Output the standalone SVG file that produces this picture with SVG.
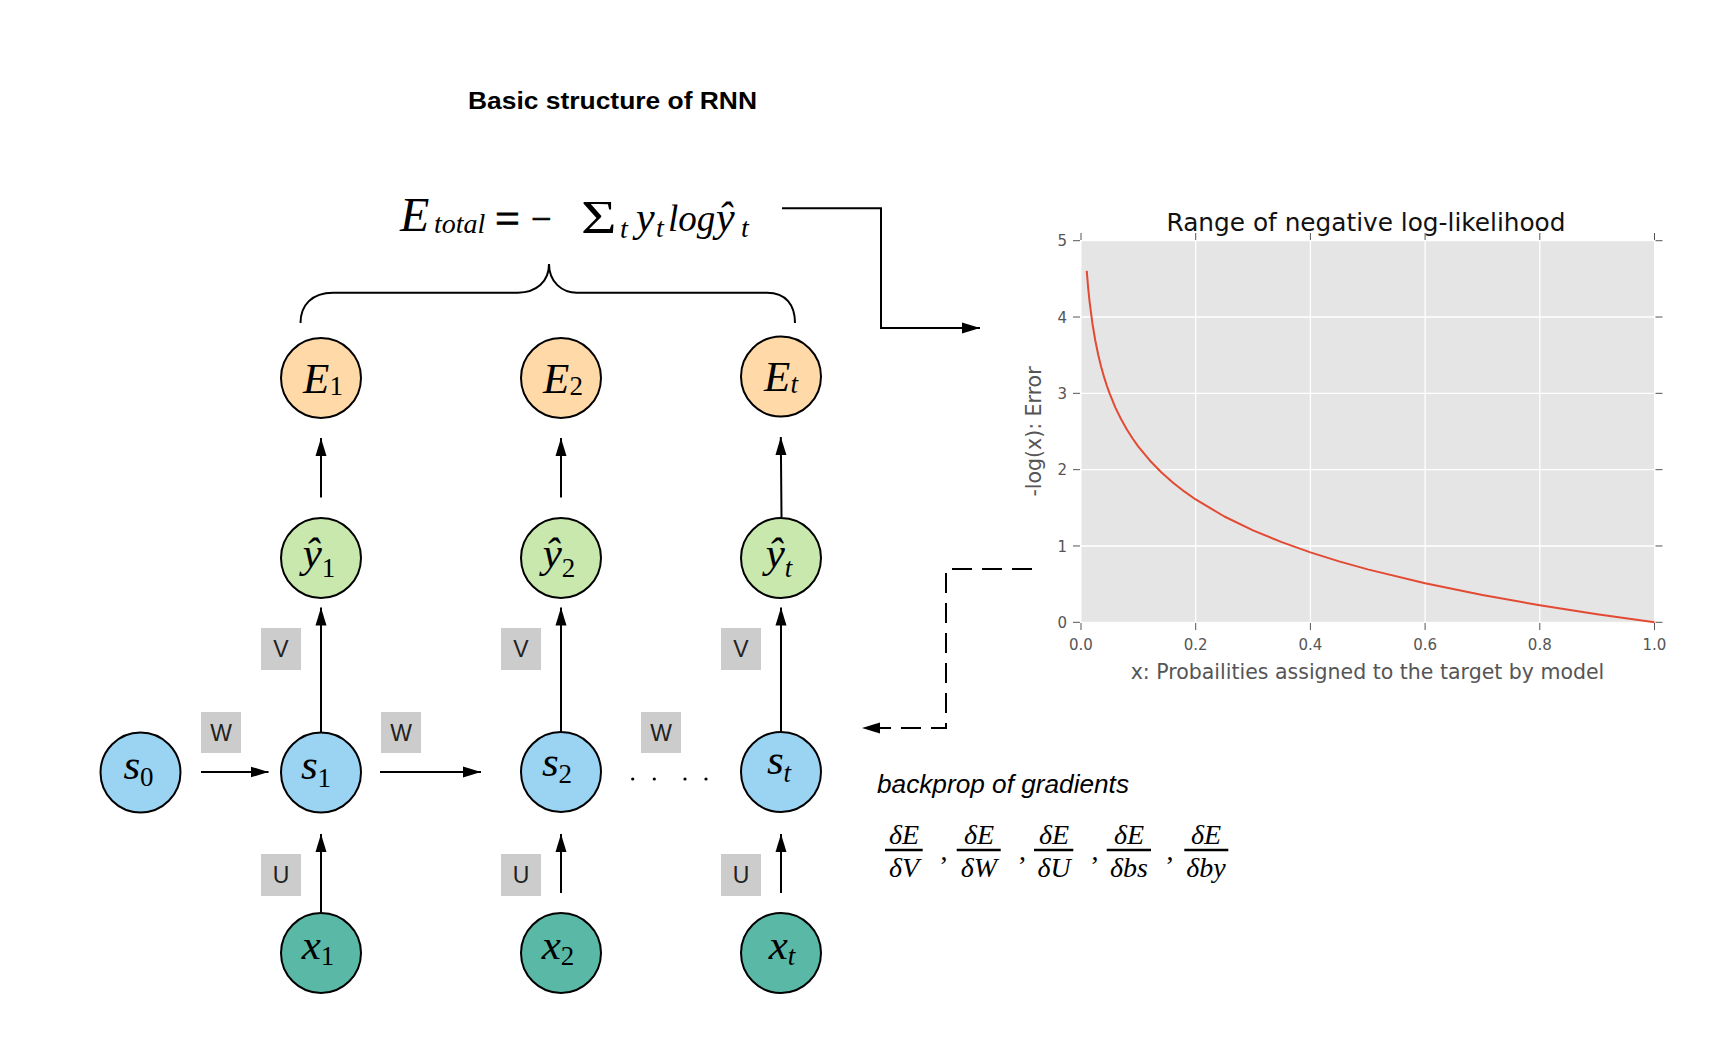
<svg xmlns="http://www.w3.org/2000/svg" width="1710" height="1061" viewBox="0 0 1710 1061">
<defs>
<style>
.node{stroke:#000;stroke-width:2}
.e{fill:#FFD9A8}.yh{fill:#C8E8AE}.s{fill:#9BD3F3}.x{fill:#5AB8A7}
.lbl{font-family:"Liberation Serif","Times New Roman",serif;font-style:italic;font-size:43px;fill:#000}
.sub{font-size:27px}
.rm{font-style:normal}
.conn{fill:none;stroke:#000;stroke-width:2}
.dash{stroke-dasharray:20 10}
.box{fill:#CCCCCC}
.boxt{font-family:"Liberation Sans",Arial,sans-serif;font-size:23px;fill:#222;text-anchor:middle}
.math{font-family:"Liberation Serif","Times New Roman",serif;font-style:italic;fill:#000}
.mrm{font-family:"Liberation Serif","Times New Roman",serif;fill:#000}
.tick{stroke:#555;stroke-width:1}
.grid{stroke:#fff;stroke-width:1.3}
.tl{font-family:"DejaVu Sans",sans-serif;font-size:15px;fill:#555}
.al{font-family:"DejaVu Sans",sans-serif;font-size:20.5px;fill:#555}
</style>
<marker id="ah" markerUnits="userSpaceOnUse" markerWidth="18" markerHeight="12" refX="18" refY="6" orient="auto">
<path d="M0,0.5 L18,6 L0,11.5 z" fill="#000"/>
</marker>
</defs>
<rect width="1710" height="1061" fill="#fff"/>

<text id="title" x="468" y="109" font-family="Liberation Sans, Arial, sans-serif" font-weight="bold" font-size="23.5" textLength="289" lengthAdjust="spacingAndGlyphs" fill="#000">Basic structure of RNN</text>

<g id="formula">
<text class="math"><tspan x="400" y="231" font-size="48">E</tspan><tspan x="434" y="233" font-size="28">total</tspan><tspan x="495" y="233" font-size="44" font-style="normal" stroke="#000" stroke-width="0.8">=</tspan><tspan x="531" y="231" font-size="36" font-style="normal" stroke="#000" stroke-width="0.8">−</tspan></text>
<text class="mrm" transform="translate(581,233) scale(1.3,1)" font-size="47">Σ</text>
<text class="math"><tspan x="620" y="238" font-size="28">t</tspan><tspan x="636" y="231" font-size="42">y</tspan><tspan x="656" y="237" font-size="28">t</tspan><tspan x="668" y="231" font-size="37">log</tspan><tspan x="716" y="231" font-size="42">ŷ</tspan><tspan x="741" y="237" font-size="28">t</tspan></text>
</g>

<g id="brace">
<path class="conn" d="M300.5,323 C300.5,305 312,292.7 333,292.7 H518 C536,292.7 549,282 549,264 C549,282 562,292.7 577,292.7 H767 C786,292.7 795,305 795,323"/>
</g>

<g id="connectors">
<path class="conn" d="M321,497.5 V438" marker-end="url(#ah)"/>
<path class="conn" d="M561,497.5 V438" marker-end="url(#ah)"/>
<path class="conn" d="M781.5,517 L780.8,437" marker-end="url(#ah)"/>
<path class="conn" d="M321,732.5 V607.5" marker-end="url(#ah)"/>
<path class="conn" d="M561,732 V607.5" marker-end="url(#ah)"/>
<path class="conn" d="M781,732 V607.5" marker-end="url(#ah)"/>
<path class="conn" d="M321,913 V834" marker-end="url(#ah)"/>
<path class="conn" d="M561,893 V834" marker-end="url(#ah)"/>
<path class="conn" d="M781,893 V834" marker-end="url(#ah)"/>
<path class="conn" d="M201,772 H268.5" marker-end="url(#ah)"/>
<path class="conn" d="M380,772 H481" marker-end="url(#ah)"/>
<path class="conn" d="M782,208.3 H881 V328 H980" marker-end="url(#ah)"/>
<path class="conn dash" d="M1032,569 H946 V728 H862" marker-end="url(#ah)"/>
</g>

<g id="edge-labels">
<rect class="box" x="261" y="628" width="40" height="42"/><text class="boxt" x="281" y="657.2">V</text>
<rect class="box" x="501" y="628" width="40" height="42"/><text class="boxt" x="521" y="657.2">V</text>
<rect class="box" x="721" y="628" width="40" height="42"/><text class="boxt" x="741" y="657.2">V</text>
<rect class="box" x="201" y="712" width="40" height="41"/><text class="boxt" x="221" y="740.5">W</text>
<rect class="box" x="381" y="712" width="40" height="41"/><text class="boxt" x="401" y="740.5">W</text>
<rect class="box" x="641" y="712" width="40" height="41"/><text class="boxt" x="661" y="740.5">W</text>
<rect class="box" x="261" y="854" width="40" height="42"/><text class="boxt" x="281" y="883.2">U</text>
<rect class="box" x="501" y="854" width="40" height="42"/><text class="boxt" x="521" y="883.2">U</text>
<rect class="box" x="721" y="854" width="40" height="42"/><text class="boxt" x="741" y="883.2">U</text>
</g>

<g id="ellipsis" fill="#000">
<circle cx="632.7" cy="779" r="1.6"/><circle cx="654.3" cy="779" r="1.6"/><circle cx="685" cy="779" r="1.6"/><circle cx="706" cy="779" r="1.6"/>
</g>

<g id="node-E1"><circle class="node e" cx="321" cy="378" r="40"/><text class="lbl" x="323" y="392.5" text-anchor="middle">E<tspan class="sub rm" dy="2">1</tspan></text></g>
<g id="node-E2"><circle class="node e" cx="561" cy="378" r="40"/><text class="lbl" x="563" y="392.5" text-anchor="middle">E<tspan class="sub rm" dy="2">2</tspan></text></g>
<g id="node-Et"><circle class="node e" cx="781" cy="376.5" r="40"/><text class="lbl" x="781" y="391" text-anchor="middle">E<tspan class="sub" dy="2">t</tspan></text></g>

<g id="node-yhat1"><circle class="node yh" cx="321" cy="558" r="40"/><text class="lbl" x="319" y="566.5" text-anchor="middle">ŷ<tspan class="sub rm" dy="10">1</tspan></text></g>
<g id="node-yhat2"><circle class="node yh" cx="561" cy="558" r="40"/><text class="lbl" x="559" y="566.5" text-anchor="middle">ŷ<tspan class="sub rm" dy="10">2</tspan></text></g>
<g id="node-yhatt"><circle class="node yh" cx="781" cy="558" r="40"/><text class="lbl" x="779" y="566.5" text-anchor="middle">ŷ<tspan class="sub" dy="10">t</tspan></text></g>

<g id="node-s0"><circle class="node s" cx="140.5" cy="772.5" r="40"/><text class="lbl" x="138.5" y="779" text-anchor="middle">s<tspan class="sub rm" dy="7">0</tspan></text></g>
<g id="node-s1"><circle class="node s" cx="321" cy="772.5" r="40"/><text class="lbl" x="316" y="779" text-anchor="middle">s<tspan class="sub rm" dy="8">1</tspan></text></g>
<g id="node-s2"><circle class="node s" cx="561" cy="772" r="40"/><text class="lbl" x="557" y="776" text-anchor="middle">s<tspan class="sub rm" dy="7">2</tspan></text></g>
<g id="node-st"><circle class="node s" cx="781" cy="772" r="40"/><text class="lbl" x="779" y="774" text-anchor="middle">s<tspan class="sub" dy="7.5">t</tspan></text></g>

<g id="node-x1"><circle class="node x" cx="321" cy="953" r="40"/><text class="lbl" x="318" y="958.6" text-anchor="middle">x<tspan class="sub rm" dy="6.5">1</tspan></text></g>
<g id="node-x2"><circle class="node x" cx="561" cy="953" r="40"/><text class="lbl" x="558" y="958.6" text-anchor="middle">x<tspan class="sub rm" dy="6.5">2</tspan></text></g>
<g id="node-xt"><circle class="node x" cx="781" cy="953" r="40"/><text class="lbl" x="782" y="958.6" text-anchor="middle">x<tspan class="sub" dy="6.5">t</tspan></text></g>

<g id="gradients">
<text x="877" y="793" font-family="Liberation Sans, Arial, sans-serif" font-style="italic" font-size="26.5" textLength="252" lengthAdjust="spacingAndGlyphs" fill="#000">backprop of gradients</text>
<g stroke="#000" stroke-width="2.5">
<line x1="885" y1="850" x2="922.7" y2="850"/>
<line x1="956.7" y1="850" x2="1000.7" y2="850"/>
<line x1="1034" y1="850" x2="1073.3" y2="850"/>
<line x1="1106.7" y1="850" x2="1151" y2="850"/>
<line x1="1184.3" y1="850" x2="1228.3" y2="850"/>
</g>
<g class="math" font-size="28" text-anchor="middle">
<text x="904" y="843.5">δE</text><text x="904" y="876.5">δV</text>
<text x="979" y="843.5">δE</text><text x="979" y="876.5">δW</text>
<text x="1054" y="843.5">δE</text><text x="1054" y="876.5">δU</text>
<text x="1129" y="843.5">δE</text><text x="1129" y="876.5">δbs</text>
<text x="1206" y="843.5">δE</text><text x="1206" y="876.5">δby</text>
</g>
<g class="mrm" font-size="28" text-anchor="middle">
<text x="944" y="860">,</text><text x="1022.5" y="860">,</text><text x="1095" y="860">,</text><text x="1170" y="860">,</text>
</g>
</g>

<g id="chart">
<rect x="1081" y="240.7" width="573.5" height="381.6" fill="#E5E5E5" stroke="#fff" stroke-width="1"/>
<g class="grid">
<line x1="1081" y1="545.98" x2="1654.5" y2="545.98"/>
<line x1="1081" y1="469.66" x2="1654.5" y2="469.66"/>
<line x1="1081" y1="393.34" x2="1654.5" y2="393.34"/>
<line x1="1081" y1="317.02" x2="1654.5" y2="317.02"/>
<line x1="1195.7" y1="240.7" x2="1195.7" y2="622.3"/>
<line x1="1310.4" y1="240.7" x2="1310.4" y2="622.3"/>
<line x1="1425.1" y1="240.7" x2="1425.1" y2="622.3"/>
<line x1="1539.8" y1="240.7" x2="1539.8" y2="622.3"/>
</g>
<g class="tick">
<line x1="1073" y1="622.3" x2="1080" y2="622.3"/><line x1="1073" y1="545.98" x2="1080" y2="545.98"/><line x1="1073" y1="469.66" x2="1080" y2="469.66"/><line x1="1073" y1="393.34" x2="1080" y2="393.34"/><line x1="1073" y1="317.02" x2="1080" y2="317.02"/><line x1="1073" y1="240.7" x2="1080" y2="240.7"/>
<line x1="1655.5" y1="622.3" x2="1662.5" y2="622.3"/><line x1="1655.5" y1="545.98" x2="1662.5" y2="545.98"/><line x1="1655.5" y1="469.66" x2="1662.5" y2="469.66"/><line x1="1655.5" y1="393.34" x2="1662.5" y2="393.34"/><line x1="1655.5" y1="317.02" x2="1662.5" y2="317.02"/><line x1="1655.5" y1="240.7" x2="1662.5" y2="240.7"/>
<line x1="1081" y1="233" x2="1081" y2="240"/><line x1="1195.7" y1="233" x2="1195.7" y2="240"/><line x1="1310.4" y1="233" x2="1310.4" y2="240"/><line x1="1425.1" y1="233" x2="1425.1" y2="240"/><line x1="1539.8" y1="233" x2="1539.8" y2="240"/><line x1="1654.5" y1="233" x2="1654.5" y2="240"/>
<line x1="1081" y1="623" x2="1081" y2="630"/><line x1="1195.7" y1="623" x2="1195.7" y2="630"/><line x1="1310.4" y1="623" x2="1310.4" y2="630"/><line x1="1425.1" y1="623" x2="1425.1" y2="630"/><line x1="1539.8" y1="623" x2="1539.8" y2="630"/><line x1="1654.5" y1="623" x2="1654.5" y2="630"/>
</g>
<polyline fill="none" stroke="#E24A33" stroke-width="2" stroke-linejoin="round" points="1086.74,270.83 1088.17,287.87 1089.60,301.78 1092.47,323.74 1095.34,340.76 1098.21,354.68 1101.07,366.44 1103.94,376.63 1106.81,385.62 1109.68,393.67 1115.41,407.58 1121.15,419.34 1126.88,429.54 1132.62,438.53 1138.35,446.56 1149.82,460.48 1161.29,472.25 1172.76,482.44 1184.23,491.43 1195.70,499.47 1224.38,516.50 1253.05,530.41 1281.73,542.18 1310.40,552.37 1339.08,561.36 1367.75,569.40 1425.10,583.32 1482.45,595.08 1539.80,605.27 1597.15,614.26 1654.50,622.30"/>
<g class="tl" text-anchor="end">
<text x="1067" y="627.8">0</text><text x="1067" y="551.5">1</text><text x="1067" y="475.2">2</text><text x="1067" y="398.8">3</text><text x="1067" y="322.5">4</text><text x="1067" y="246.2">5</text>
</g>
<g class="tl" text-anchor="middle">
<text x="1081" y="650">0.0</text><text x="1195.7" y="650">0.2</text><text x="1310.4" y="650">0.4</text><text x="1425.1" y="650">0.6</text><text x="1539.8" y="650">0.8</text><text x="1654.5" y="650">1.0</text>
</g>
<text x="1366" y="230.7" font-family="DejaVu Sans, sans-serif" font-size="24" text-anchor="middle" textLength="399" lengthAdjust="spacingAndGlyphs" fill="#111">Range of negative log-likelihood</text>
<text class="al" x="1367.5" y="679" text-anchor="middle">x: Probailities assigned to the target by model</text>
<text class="al" transform="translate(1041,431.5) rotate(-90)" text-anchor="middle">-log(x): Error</text>
</g>
</svg>
